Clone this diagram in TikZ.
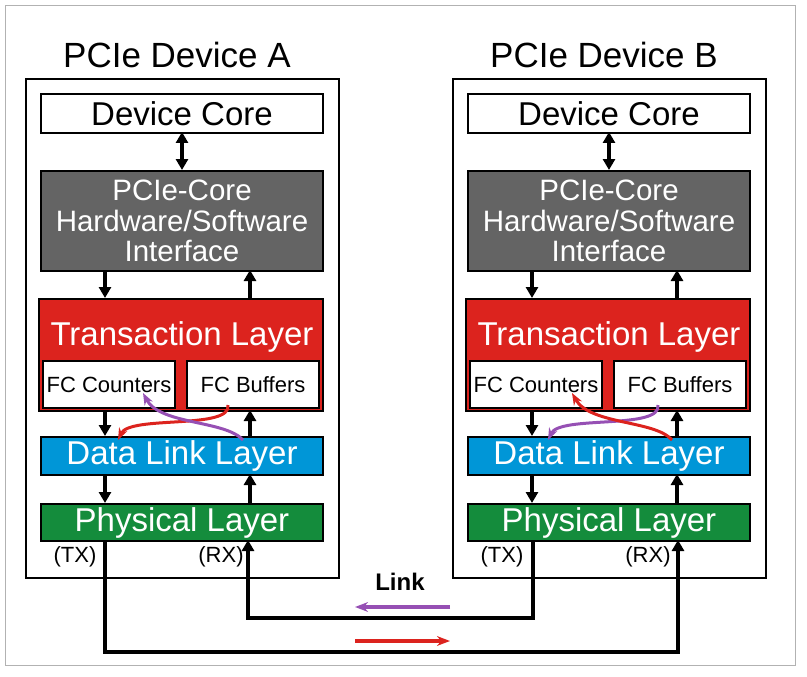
\documentclass[tikz,border=0pt]{standalone}
\usepackage{fontspec}
\setmainfont{Liberation Sans}
\usetikzlibrary{arrows.meta}
\definecolor{dgray}{RGB}{100,100,100}
\definecolor{tred}{RGB}{220,35,30}
\definecolor{dblue}{RGB}{0,150,215}
\definecolor{pgreen}{RGB}{20,140,60}
\definecolor{purp}{RGB}{150,80,180}
\begin{document}
\begin{tikzpicture}[x=1pt,y=-1pt,
 lay/.style={draw=black,line width=2pt,inner sep=0,anchor=north west},
 ar/.style={line width=3.8pt,-{Triangle[length=11pt,width=12pt]}},
 dar/.style={line width=3.8pt,{Triangle[length=11pt,width=12pt]}-{Triangle[length=11pt,width=12pt]}},
 wire/.style={line width=3.2pt},
 big/.style={font=\fontsize{33}{35}\selectfont},
 sm/.style={font=\fontsize{22}{24}\selectfont}]
\useasboundingbox (0,0) rectangle (807,677);
\draw[gray!60] (5,5) rectangle (795,665);
\foreach \n/\d/\L in {A/0/A,B/427/B}{
 \begin{scope}[xshift=\d]
 \node[draw,line width=2pt,minimum width=313,minimum height=499,anchor=north west] (box\n) at (25,78) {};
 \node[font=\fontsize{35}{37}\selectfont] (title\n) at (177,55) {PCIe Device \L};
 \node[lay,fill=white,minimum width=282,minimum height=39,big] (core\n) at (40,93) {Device Core};
 \node[lay,fill=dgray,minimum width=282,minimum height=100,text=white,align=center,font=\fontsize{29.5}{30.5}\selectfont] (hw\n) at (40,170) {PCIe-Core\\Hardware/Software\\Interface};
 \node[lay,fill=tred,minimum width=284,minimum height=112] (tl\n) at (38,298) {};
 \node[text=white,big] at (182,337) {Transaction Layer};
 \node[lay,fill=white,minimum width=132,minimum height=47,sm] (fcc\n) at (42,360) {FC Counters};
 \node[lay,fill=white,minimum width=132,minimum height=47,sm] (fcb\n) at (186,360) {FC Buffers};
 \node[lay,fill=dblue,minimum width=282,minimum height=38,big,text=white] (dl\n) at (40,436) {Data Link Layer};
 \node[lay,fill=pgreen,minimum width=282,minimum height=37,big,text=white] (ph\n) at (40,503) {Physical Layer};
 \node[sm] (tx\n) at (75,557) {(TX)};
 \node[sm] (rx\n) at (221,557) {(RX)};
 \draw[dar] (182,132) -- (182,170);
 \draw[ar] (105,270) -- (105,298);
 \draw[ar] (250,298) -- (250,270);
 \draw[ar] (105,410) -- (105,436);
 \draw[ar] (250,436) -- (250,410);
 \draw[ar] (105,474) -- (105,503);
 \draw[ar] (250,503) -- (250,474);
 \end{scope}}
\draw[tred,line width=3pt,-{Stealth[length=12pt]}] (228,405) .. controls (232,430) and (130,415) .. (118,440);
\draw[purp,line width=3pt,-{Stealth[length=12pt]}] (243,440) .. controls (225,420) and (160,425) .. (143,393);
\draw[purp,line width=3pt,-{Stealth[length=12pt]}] (658,405) .. controls (662,430) and (560,415) .. (548,440);
\draw[tred,line width=3pt,-{Stealth[length=12pt]}] (672,440) .. controls (655,420) and (590,425) .. (572,393);
\coordinate (w1) at (105,652); \coordinate (w2) at (678,652);
\coordinate (w3) at (533,618); \coordinate (w4) at (248,618);
\draw[wire] (105,540) -- (w1) -- (w2) -- (678,550);
\draw[ar] (678,560) -- (678,540);
\draw[wire] (533,540) -- (w3) -- (w4) -- (248,550);
\draw[ar] (248,560) -- (248,540);
\node[font=\bfseries\fontsize{24}{26}\selectfont] (link) at (400,582) {Link};
\coordinate (pa) at (450,607); \coordinate (pb) at (355,607);
\coordinate (ra) at (355,641); \coordinate (rb) at (450,641);
\draw[purp,line width=3.2pt,-{Stealth[length=13pt]}] (pa) -- (pb);
\draw[tred,line width=3.2pt,-{Stealth[length=13pt]}] (ra) -- (rb);
\end{tikzpicture}
\end{document}
